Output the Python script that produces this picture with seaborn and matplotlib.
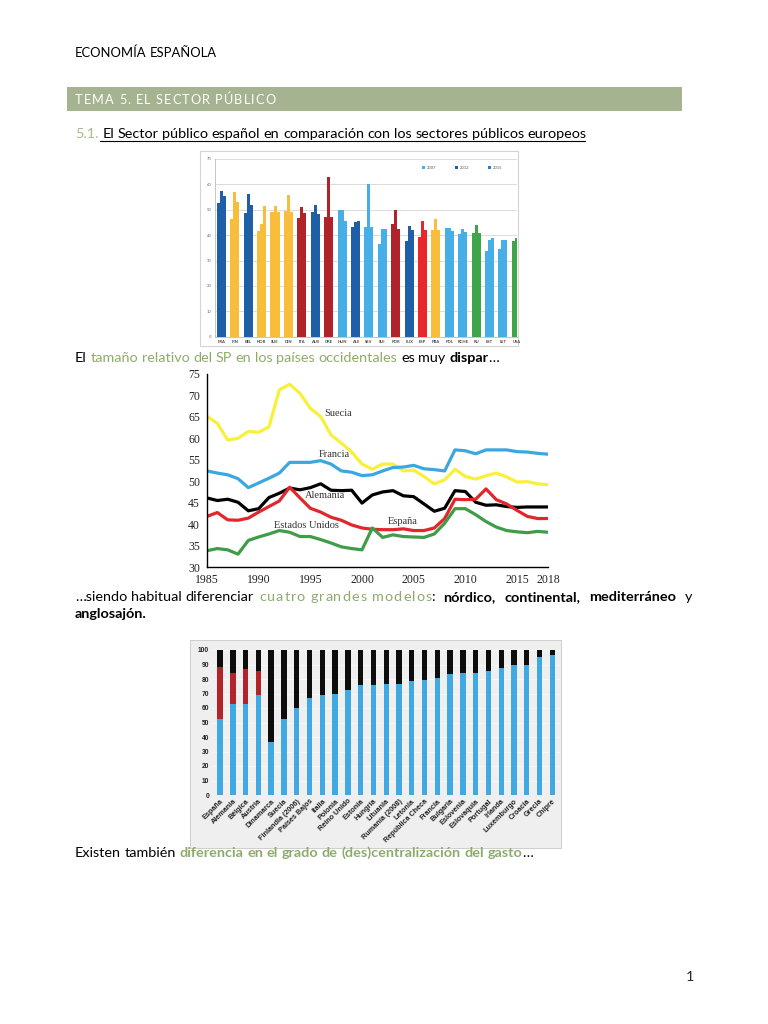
import numpy as np
import pandas as pd
import matplotlib
matplotlib.use("Agg")
import matplotlib.pyplot as plt
import seaborn as sns
from matplotlib.patches import Rectangle, Patch
from matplotlib.lines import Line2D

# ---------------- DATA ----------------
# Chart 1: public spending (% GDP) by country, 3 years
c1_countries = ['FRA', 'FIN', 'BEL', 'NOR', 'SUE', 'DIN', 'ITA', 'AUS', 'GRE', 'HUN', 'ALE', 'SEV',
                'SUI', 'POR', 'LUX', 'ESP', 'PBA', 'POL', 'RCHE', 'RU', 'EST', 'LET', 'USA']
c1_years = ['2007', '2012', '2015']
c1_v2007 = [52.6, 46.5, 48.6, 41.7, 49.1, 49.4, 46.8, 49.1, 47.3, 50.0, 43.4, 43.4,
            36.4, 44.4, 37.8, 39.2, 42.2, 42.7, 40.5, 41.0, 33.8, 34.6, 37.8]
c1_v2012 = [57.3, 56.9, 56.2, 44.4, 51.6, 55.8, 50.9, 51.8, 62.8, 50.0, 45.2, 60.3,
            42.6, 49.9, 43.6, 45.7, 46.5, 43.0, 42.6, 43.9, 38.1, 38.2, 38.9]
c1_v2015 = [55.4, 53.1, 52.0, 51.6, 49.1, 49.1, 48.8, 48.5, 47.3, 45.6, 45.5, 43.4,
            42.6, 42.6, 42.2, 42.2, 42.0, 41.8, 41.3, 41.0, 38.9, 38.2, 38.0]
c1_yticks = [0, 10, 20, 30, 40, 50, 60, 70]

# Chart 2: public spending 1985-2018
c2_years = list(range(1985, 2019))
c2_suecia = [65.1, 63.5, 59.6, 60.0, 61.6, 61.4, 62.7, 71.3, 72.6, 70.5,
             67.0, 65.1, 60.8, 58.9, 56.8, 54.0, 52.8, 54.0, 54.0, 52.4,
             52.6, 51.1, 49.4, 50.3, 52.8, 51.1, 50.5, 51.3, 51.9, 51.0,
             49.8, 49.9, 49.4, 49.2]
c2_francia = [52.4, 51.9, 51.5, 50.6, 48.5, 49.6, 50.7, 51.9, 54.4, 54.4,
              54.4, 54.8, 54.0, 52.4, 52.1, 51.3, 51.5, 52.4, 53.2, 53.3,
              53.7, 52.9, 52.7, 52.4, 57.3, 57.1, 56.4, 57.3, 57.3, 57.3,
              56.9, 56.8, 56.5, 56.3]
c2_alemania = [46.1, 45.5, 45.8, 45.1, 43.1, 43.6, 46.2, 47.2, 48.4, 48.0,
               48.5, 49.4, 47.9, 47.8, 47.9, 44.9, 46.8, 47.5, 47.8, 46.6,
               46.4, 44.7, 43.0, 43.7, 47.8, 47.6, 45.1, 44.4, 44.5, 44.1,
               43.9, 44.0, 44.0, 44.0]
c2_espana = [41.8, 42.7, 41.0, 40.9, 41.4, 42.8, 44.1, 45.4, 48.6, 46.1,
             43.7, 42.8, 41.6, 40.9, 39.8, 39.1, 38.8, 38.7, 38.7, 38.9,
             38.5, 38.5, 39.1, 41.3, 45.8, 45.7, 45.8, 48.2, 45.7, 44.7,
             43.2, 41.8, 41.3, 41.3]
c2_eeuu = [33.8, 34.3, 34.0, 33.0, 36.2, 37.0, 37.7, 38.5, 38.1, 37.1,
           37.1, 36.4, 35.6, 34.7, 34.3, 34.0, 39.1, 36.9, 37.5, 37.1,
           37.0, 36.9, 37.7, 40.2, 43.6, 43.6, 42.2, 40.6, 39.3, 38.5,
           38.2, 38.0, 38.3, 38.1]
c2_names = ['Suecia', 'Francia', 'Alemania', 'España', 'Estados Unidos']
c2_xticks = [1985, 1990, 1995, 2000, 2005, 2010, 2015, 2018]
c2_yticks = [30, 35, 40, 45, 50, 55, 60, 65, 70, 75]

# Chart 3: share of spending by government level (%)
c3_countries = ['España', 'Alemania', 'Bélgica', 'Austria', 'Dinamarca', 'Suecia',
                'Finlandia (2006)', 'Países Bajos', 'Italia', 'Polonia', 'Reino Unido',
                'Estonia', 'Hungría', 'Lituania', 'Rumanía (2008)', 'Letonia',
                'República Checa', 'Francia', 'Bulgaria', 'Eslovenia', 'Eslovaquia',
                'Portugal', 'Irlanda', 'Luxemburgo', 'Croacia', 'Grecia', 'Chipre']
c3_central = [52.2, 62.5, 63.0, 68.7, 36.8, 52.2, 60.0, 66.7, 69.2, 69.9, 72.6,
              75.9, 76.1, 76.3, 76.6, 78.4, 79.1, 80.5, 83.7, 83.9, 83.9,
              85.7, 87.8, 89.6, 89.9, 95.2, 96.3]
c3_regional = [36.1, 21.4, 24.1, 16.8, 0, 0, 0, 0, 0, 0, 0,
               0, 0, 0, 0, 0, 0, 0, 0, 0, 0,
               0, 0, 0, 0, 0, 0]
c3_yticks = [0, 10, 20, 30, 40, 50, 60, 70, 80, 90, 100]

# ---------------- STYLE ----------------
W, H = 768, 1024
sns.set_theme(style="white")
plt.rcParams['font.family'] = ['Lato', 'DejaVu Sans']
BODY = ['Lato', 'DejaVu Sans']
SERIF = ['Liberation Serif', 'DejaVu Serif']

fig = plt.figure(figsize=(W / 100, H / 100), dpi=100)
fig.patch.set_facecolor('white')
renderer = fig.canvas.get_renderer()


def fx(px):
    return px / W


def fy(py):
    return 1 - py / H


def add_ax(x0, y0, x1, y1):
    return fig.add_axes([x0 / W, 1 - y1 / H, (x1 - x0) / W, (y1 - y0) / H])


STY = {
    'n': dict(color='black', fontweight='normal'),
    'b': dict(color='black', fontweight='bold'),
    'g': dict(color='#8fab6c', fontweight='normal'),
    'gb': dict(color='#8fab6c', fontweight='bold'),
    'gl': dict(color='#a8bb8f', fontweight='normal'),
    'w': dict(color='white', fontweight='normal'),
}


def measure(s, size, st):
    t = fig.text(0, 0, s, fontsize=size, family=BODY, **STY[st])
    w = t.get_window_extent(renderer).width
    t.remove()
    return w


def advance(ch, size, st):
    return measure('H' + ch + 'H', size, st) - measure('HH', size, st)


def draw_tracked(x0, yb, text, size, track, st):
    x = x0
    for ch in text:
        if ch != ' ':
            fig.text(fx(x), fy(yb), ch, fontsize=size, family=BODY, va='baseline', ha='left', **STY[st])
        x += advance(ch, size, st) + track
    return x


def tokens(pieces):
    toks = []
    pending = False
    for text, st in pieces:
        parts = text.split(' ')
        for i, p in enumerate(parts):
            if i > 0:
                pending = True
            if p == '':
                continue
            toks.append((p, st, pending and len(toks) > 0))
            pending = False
    return toks


def draw_rich(x0, yb, pieces, size, target_w=None, justify=False):
    toks = tokens(pieces)

    def layout(sz):
        sp = measure('a a', sz, 'n') - measure('aa', sz, 'n')
        widths = [measure(w, sz, st) for w, st, _ in toks]
        nsp = sum(1 for t in toks if t[2])
        return sp, widths, nsp

    sp, widths, nsp = layout(size)
    natural = sum(widths) + sp * nsp
    extra = 0.0
    if target_w is not None:
        if justify and nsp:
            extra = (target_w - natural) / nsp
        else:
            size = size * target_w / natural
            sp, widths, nsp = layout(size)
    x = x0
    for (w, st, spb), wd in zip(toks, widths):
        if spb:
            x += sp + extra
        fig.text(fx(x), fy(yb), w, fontsize=size, family=BODY, va='baseline', ha='left', **STY[st])
        x += wd
    return x, size


# ---------------- PAGE TEXT ----------------
draw_rich(75, 57, [('ECONOMÍA ESPAÑOLA', 'n')], 10, target_w=141)
fig.patches.append(Rectangle((fx(67), fy(111)), (682 - 67) / W, 24 / H, transform=fig.transFigure,
                             facecolor='#a5b390', edgecolor='none', zorder=-5))
draw_tracked(75, 104, 'TEMA 5. EL SECTOR PÚBLICO', 9.2, 1.1, 'w')
_, s0 = draw_rich(75, 138, [('5.1. ', 'gl'),
                            ('El Sector público español en comparación con los sectores públicos europeos', 'n')],
                  11, target_w=510)
fig.add_artist(Line2D([fx(100), fx(585)], [fy(140.5), fy(140.5)], color='black', lw=0.8))

body_size = s0
draw_rich(75, 362, [('El ', 'n'), ('tamaño relativo del SP en los países occidentales', 'g'),
                    (' es muy ', 'n'), ('dispar', 'b'), ('…', 'n')], body_size)
draw_rich(75, 857, [('Existen también ', 'n'),
                    ('diferencia en el grado de (des)centralización del gasto', 'gb'),
                    ('…', 'n')], body_size)
# justified line with tracked green segment
xa, _ = draw_rich(75, 601, [('…siendo habitual diferenciar', 'n')], body_size)
sp_w = measure('a a', body_size, 'n') - measure('aa', body_size, 'n')
xb = draw_tracked(xa + sp_w + 2, 601, 'cuatro grandes modelos', body_size, 1.0, 'g')
draw_rich(xb - 1.0, 601, [(': ', 'n'), ('nórdico, continental, mediterráneo', 'b'), (' y', 'n')],
          body_size, target_w=692 - (xb - 1.0), justify=True)
draw_rich(75, 618, [('anglosajón.', 'b')], body_size)
fig.text(fx(686), fy(981), '1', fontsize=body_size, family=BODY, va='baseline', ha='left')

# ---------------- CHART 1 ----------------
fig.patches.append(Rectangle((fx(200), fy(346)), (518 - 200) / W, (346 - 151) / H,
                             transform=fig.transFigure, facecolor='white', edgecolor='#d4d4d4',
                             lw=0.8, zorder=-5))
ax1 = add_ax(215, 159, 517, 336.7)
df1 = pd.DataFrame({
    'country': c1_countries * 3,
    'year': sum([[y] * len(c1_countries) for y in c1_years], []),
    'value': c1_v2007 + c1_v2012 + c1_v2015,
})
leg_cols = ['#45aee8', '#1f5fa6', '#2f7bc4']
sns.barplot(data=df1, x='country', y='value', hue='year', order=c1_countries, hue_order=c1_years,
            palette=leg_cols, width=0.68, errorbar=None, saturation=1, legend=False,
            linewidth=0, ax=ax1)
col_dblue, col_yel, col_dred, col_lblue, col_red, col_grn = '#1f5fa8', '#f8bd3b', '#b1232a', '#46afe8', '#e8272b', '#3fa54b'
c1_color_map = {'FRA': col_dblue, 'FIN': col_yel, 'BEL': col_dblue, 'NOR': col_yel, 'SUE': col_yel,
                'DIN': col_yel, 'ITA': col_dred, 'AUS': col_dblue, 'GRE': col_dred, 'HUN': col_lblue,
                'ALE': col_dblue, 'SEV': col_lblue, 'SUI': col_lblue, 'POR': col_dred, 'LUX': col_dblue,
                'ESP': col_red, 'PBA': col_yel, 'POL': col_lblue, 'RCHE': col_lblue, 'RU': col_grn,
                'EST': col_lblue, 'LET': col_lblue, 'USA': col_grn}
for cont in ax1.containers:
    for patch, c in zip(cont, c1_countries):
        patch.set_facecolor(c1_color_map[c])
        patch.set_edgecolor('none')
ax1.set_xlim(-0.48, 22.05)
ax1.set_ylim(0, 70)
ax1.set_yticks(c1_yticks)
ax1.set_yticklabels([str(v) for v in c1_yticks], fontsize=3, color='#666666')
ax1.set_xticks(range(len(c1_countries)))
ax1.set_xticklabels(c1_countries, fontsize=3, color='#444444', fontweight='bold')
ax1.tick_params(axis='both', length=0, pad=2.5)
ax1.set_xlabel('')
ax1.set_ylabel('')
ax1.set_axisbelow(True)
ax1.yaxis.grid(True, color='#d6d6d6', lw=0.6)
for s in ['top', 'right']:
    ax1.spines[s].set_visible(False)
for s in ['left', 'bottom']:
    ax1.spines[s].set_color('#bdbdbd')
    ax1.spines[s].set_linewidth(0.6)
ax1.set_facecolor('none')
handles = [Patch(facecolor=c, edgecolor='none') for c in leg_cols]
fig.legend(handles, c1_years, loc='center', bbox_to_anchor=(fx(462), fy(168)), ncol=3,
           fontsize=3, frameon=False, handlelength=0.7, handleheight=0.9, handletextpad=0.4,
           columnspacing=4.5, labelcolor='#555555')

# ---------------- CHART 2 ----------------
ax2 = add_ax(207, 374, 548, 567)
df2 = pd.DataFrame({
    'year': c2_years * 5,
    'value': c2_suecia + c2_francia + c2_alemania + c2_espana + c2_eeuu,
    'country': sum([[n] * len(c2_years) for n in c2_names], []),
})
pal2 = {'Suecia': '#f9f03a', 'Francia': '#3ba7e1', 'Alemania': '#000000',
        'España': '#e1272b', 'Estados Unidos': '#3f9c48'}
sns.lineplot(data=df2, x='year', y='value', hue='country', hue_order=c2_names, palette=pal2,
             linewidth=2.3, legend=False, ax=ax2)
ax2.set_xlim(1985, 2018)
ax2.set_ylim(30, 75)
ax2.set_xticks(c2_xticks)
ax2.set_yticks(c2_yticks)
ax2.set_xticklabels([str(v) for v in c2_xticks], fontsize=8.5, family=SERIF)
ax2.set_yticklabels([str(v) for v in c2_yticks], fontsize=8.5, family=SERIF)
ax2.tick_params(axis='both', direction='out', length=3, width=0.8, pad=2, color='black', labelcolor='#222222')
ax2.set_xlabel('')
ax2.set_ylabel('')
for s in ['top', 'right']:
    ax2.spines[s].set_visible(False)
for s in ['left', 'bottom']:
    ax2.spines[s].set_color('black')
    ax2.spines[s].set_linewidth(1.0)
ax2.set_facecolor('none')
c2_label_pos = {'Suecia': (1997.7, 65.9), 'Francia': (1997.3, 56.2), 'Alemania': (1996.4, 46.6),
                'Estados Unidos': (1994.6, 39.6), 'España': (2003.9, 40.5)}
for name, (lx, ly) in c2_label_pos.items():
    ax2.text(lx, ly, name, fontsize=7.5, family=SERIF, ha='center', va='center', color='#333333')

# ---------------- CHART 3 ----------------
fig.patches.append(Rectangle((fx(190), fy(848)), (561 - 190) / W, (848 - 640) / H,
                             transform=fig.transFigure, facecolor='#efefef', edgecolor='#c8c8c8',
                             lw=0.6, zorder=-5))
ax3 = add_ax(212, 650, 560, 795)
total = [100] * len(c3_countries)
cent_reg = [a + b for a, b in zip(c3_central, c3_regional)]
sns.barplot(x=c3_countries, y=total, color='#0d0d0d', width=0.42, errorbar=None, saturation=1,
            linewidth=0, ax=ax3)
sns.barplot(x=c3_countries, y=cent_reg, color='#b3232a', width=0.42, errorbar=None, saturation=1,
            linewidth=0, ax=ax3)
sns.barplot(x=c3_countries, y=c3_central, color='#40a9e3', width=0.42, errorbar=None, saturation=1,
            linewidth=0, ax=ax3)
ax3.set_xlim(-0.63, 26.6)
ax3.set_ylim(0, 100)
ax3.set_yticks(c3_yticks)
ax3.set_yticklabels([str(v) for v in c3_yticks], fontsize=4.8, fontweight='bold',
                    family=['Liberation Sans', 'DejaVu Sans'], color='#222222')
ax3.set_xticks(range(len(c3_countries)))
ax3.set_xticklabels(c3_countries, rotation=45, ha='right', rotation_mode='anchor', fontsize=5.2,
                    fontweight='bold', family=['Liberation Sans', 'DejaVu Sans'], color='#222222')
ax3.tick_params(axis='both', length=0, pad=2)
ax3.set_xlabel('')
ax3.set_ylabel('')
ax3.set_axisbelow(True)
ax3.yaxis.grid(True, color='#f8f8f8', lw=0.6)
for s in ax3.spines.values():
    s.set_visible(False)
ax3.set_facecolor('none')

fig.savefig('out.png', dpi=100, facecolor='white')
